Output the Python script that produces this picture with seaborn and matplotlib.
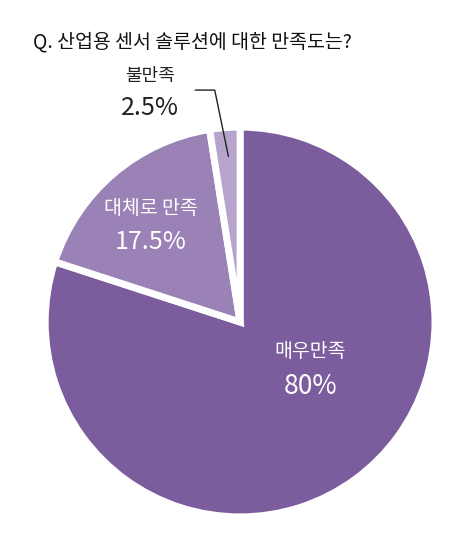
import matplotlib
matplotlib.use("Agg")
import matplotlib.pyplot as plt
import seaborn as sns

sns.set_theme(style="white")
plt.rcParams['font.family'] = ['Noto Sans CJK KR', 'DejaVu Sans']

categories = ["매우만족", "대체로 만족", "불만족"]
values = [80, 17.5, 2.5]
value_labels = ["80%", "17.5%", "2.5%"]
colors = ["#7b5c9d", "#9a81b6", "#b6a4cc"]

fig = plt.figure(figsize=(4.74, 5.6), dpi=100)
fig.patch.set_facecolor("white")
ax = fig.add_axes([0.095, 0.077, 0.823, 0.696])
ax.pie(values, colors=colors, startangle=90, counterclock=False,
       wedgeprops=dict(edgecolor="white", linewidth=5), radius=1.0)
ax.set_xlim(-1, 1); ax.set_ylim(-1, 1); ax.set_aspect("equal")
ax.axis("off")

ax.text(0.36, -0.15, categories[0], color="white", ha="center", va="center", fontsize=14)
ax.text(0.36, -0.33, value_labels[0], color="white", ha="center", va="center", fontsize=19)
ax.text(-0.46, 0.58, categories[1], color="white", ha="center", va="center", fontsize=14)
ax.text(-0.46, 0.41, value_labels[1], color="white", ha="center", va="center", fontsize=18)
ax.text(-0.46, 1.26, categories[2], color="#222222", ha="center", va="center", fontsize=13, clip_on=False)
ax.text(-0.46, 1.10, value_labels[2], color="#222222", ha="center", va="center", fontsize=18, clip_on=False)
ax.plot([-0.23, -0.13, -0.06], [1.19, 1.19, 0.85], color="#222222", lw=1, clip_on=False)

fig.text(0.07, 0.925, "Q. 산업용 센서 솔루션에 대한 만족도는?", fontsize=14, color="#111111",
         ha="left", va="center")
fig.savefig("out.png", dpi=100)
